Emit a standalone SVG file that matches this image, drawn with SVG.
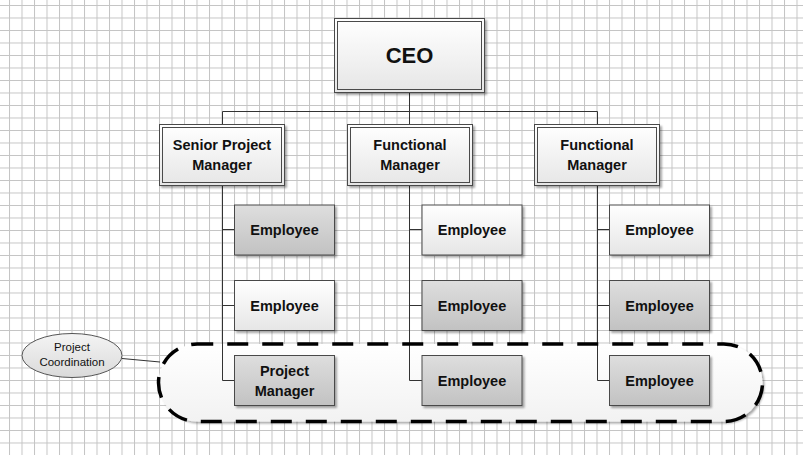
<svg xmlns="http://www.w3.org/2000/svg" width="803" height="455" viewBox="0 0 803 455">
<defs>
<pattern id="grid" patternUnits="userSpaceOnUse" x="9" y="5" width="12.5" height="12.5">
<path d="M0.5 0V12.5M0 0.5H12.5" fill="none" stroke="#c4c4c4" stroke-width="1"/>
</pattern>
<linearGradient id="gWhite" x1="0" y1="0" x2="0" y2="1">
<stop offset="0" stop-color="#ffffff"/>
<stop offset="1" stop-color="#e6e6e6"/>
</linearGradient>
<linearGradient id="gGray" x1="0" y1="0" x2="0" y2="1">
<stop offset="0" stop-color="#dedede"/>
<stop offset="1" stop-color="#c2c2c2"/>
</linearGradient>
<linearGradient id="gOval" x1="0" y1="0" x2="0" y2="1">
<stop offset="0" stop-color="#f4f4f4"/>
<stop offset="1" stop-color="#dadada"/>
</linearGradient>
<linearGradient id="gBand" x1="0" y1="0" x2="0" y2="1">
<stop offset="0" stop-color="#ffffff"/>
<stop offset="1" stop-color="#f2f2f2"/>
</linearGradient>
<filter id="sh" x="-10%" y="-10%" width="125%" height="130%">
<feGaussianBlur in="SourceAlpha" stdDeviation="1.2"/>
<feOffset dx="2" dy="2" result="b"/>
<feComponentTransfer><feFuncA type="linear" slope="0.35"/></feComponentTransfer>
<feMerge><feMergeNode/><feMergeNode in="SourceGraphic"/></feMerge>
</filter>
</defs>
<style>
.box{stroke:#4a4a4a;stroke-width:1;}
.inner{fill:none;stroke:#4a4a4a;stroke-width:1;}
.t{font-family:"Liberation Sans",Arial,sans-serif;font-weight:bold;font-size:14.5px;fill:#111;text-anchor:middle;}
.ceo{font-size:22px;}
.small{font-family:"Liberation Sans",Arial,sans-serif;font-size:11.5px;fill:#111;text-anchor:middle;}
.conn{fill:none;stroke:#333;stroke-width:1;}
</style>
<rect width="803" height="455" fill="#ffffff"/>
<rect width="803" height="455" fill="url(#grid)"/>

<g id="project-coordination-band">
<rect x="158.5" y="344" width="604" height="77.5" rx="38.75" fill="url(#gBand)" filter="url(#sh)"/>
</g>

<g id="connectors">
<path class="conn" d="M409.5 92.5V111.5M222.5 124.5V111.5H597.5V124.5M409.5 111.5V124.5"/>
<path class="conn" d="M222.5 185.5V380.5M222.5 229.5H234.5M222.5 305.5H234.5M222.5 380.5H234.5"/>
<path class="conn" d="M409.5 185.5V380.5M409.5 229.5H422M409.5 305.5H422M409.5 380.5H422"/>
<path class="conn" d="M597.5 186V380.5M597.5 229.5H609.5M597.5 305.5H609.5M597.5 380.5H609.5"/>
<path class="conn" d="M122 358.5L160 362"/>
</g>

<g id="band-outline">
<rect x="158.5" y="344" width="604" height="77.5" rx="38.75" fill="none" stroke="#000" stroke-width="3.5" stroke-dasharray="21 14" stroke-dashoffset="5"/>
</g>

<g id="ceo">
<rect class="box" x="334.5" y="18.5" width="150" height="74" fill="url(#gWhite)" filter="url(#sh)"/>
<rect class="inner" x="337.5" y="21.5" width="144" height="68"/>
<text class="t ceo" x="409.5" y="63">CEO</text>
</g>

<g id="senior-project-manager">
<rect class="box" x="159.5" y="124.5" width="125" height="61" fill="url(#gWhite)" filter="url(#sh)"/>
<rect class="inner" x="162.5" y="127.5" width="119" height="55"/>
<text class="t" x="222" y="150">Senior Project</text>
<text class="t" x="222" y="170">Manager</text>
</g>

<g id="functional-manager-1">
<rect class="box" x="347.5" y="124.5" width="125" height="61" fill="url(#gWhite)" filter="url(#sh)"/>
<rect class="inner" x="350.5" y="127.5" width="119" height="55"/>
<text class="t" x="410" y="150">Functional</text>
<text class="t" x="410" y="170">Manager</text>
</g>

<g id="functional-manager-2">
<rect class="box" x="534.5" y="124.5" width="125" height="61" fill="url(#gWhite)" filter="url(#sh)"/>
<rect class="inner" x="537.5" y="127.5" width="119" height="55"/>
<text class="t" x="597" y="150">Functional</text>
<text class="t" x="597" y="170">Manager</text>
</g>

<g id="emp-1-1">
<rect class="box" x="234.5" y="205" width="100" height="50" fill="url(#gGray)" filter="url(#sh)"/>
<text class="t" x="284.5" y="235">Employee</text>
</g>
<g id="emp-1-2">
<rect class="box" x="234.5" y="280.5" width="100" height="50" fill="url(#gWhite)" filter="url(#sh)"/>
<text class="t" x="284.5" y="310.5">Employee</text>
</g>
<g id="project-manager">
<rect class="box" x="234.5" y="355.5" width="100" height="50" fill="url(#gGray)" filter="url(#sh)"/>
<text class="t" x="284.5" y="375.5">Project</text>
<text class="t" x="284.5" y="395.5">Manager</text>
</g>

<g id="emp-2-1">
<rect class="box" x="422" y="205" width="100" height="50" fill="url(#gWhite)" filter="url(#sh)"/>
<text class="t" x="472" y="235">Employee</text>
</g>
<g id="emp-2-2">
<rect class="box" x="422" y="280.5" width="100" height="50" fill="url(#gGray)" filter="url(#sh)"/>
<text class="t" x="472" y="310.5">Employee</text>
</g>
<g id="emp-2-3">
<rect class="box" x="422" y="355.5" width="100" height="50" fill="url(#gGray)" filter="url(#sh)"/>
<text class="t" x="472" y="385.5">Employee</text>
</g>

<g id="emp-3-1">
<rect class="box" x="609.5" y="205" width="100" height="50" fill="url(#gWhite)" filter="url(#sh)"/>
<text class="t" x="659.5" y="235">Employee</text>
</g>
<g id="emp-3-2">
<rect class="box" x="609.5" y="280.5" width="100" height="50" fill="url(#gGray)" filter="url(#sh)"/>
<text class="t" x="659.5" y="310.5">Employee</text>
</g>
<g id="emp-3-3">
<rect class="box" x="609.5" y="355.5" width="100" height="50" fill="url(#gGray)" filter="url(#sh)"/>
<text class="t" x="659.5" y="385.5">Employee</text>
</g>

<g id="project-coordination-label">
<ellipse cx="72" cy="355.5" rx="50" ry="22" fill="url(#gOval)" stroke="#555" stroke-width="1"/>
<text class="small" x="72" y="351">Project</text>
<text class="small" x="72" y="366">Coordination</text>
</g>
</svg>
